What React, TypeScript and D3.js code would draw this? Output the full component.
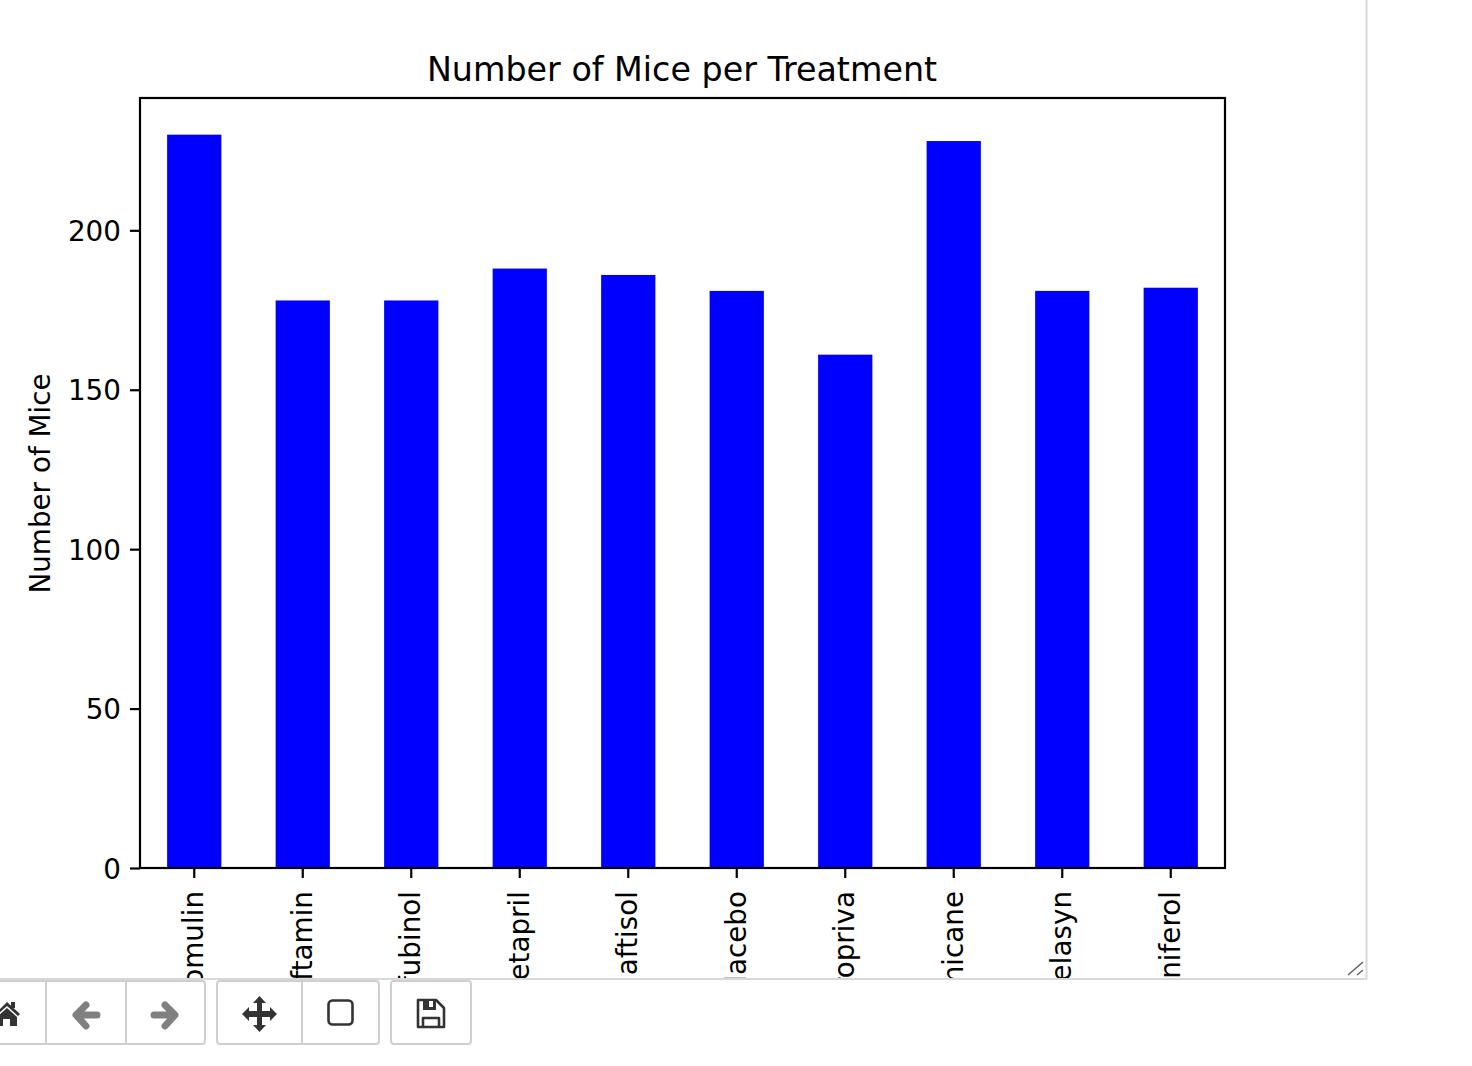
import React, { useEffect, useRef } from "react";
import * as d3 from "d3";

const categories = ["Capomulin", "Ceftamin", "Infubinol", "Ketapril", "Naftisol", "Placebo", "Propriva", "Ramicane", "Stelasyn", "Zoniferol"];
const miceCounts = [230, 178, 178, 188, 186, 181, 161, 228, 181, 182];
const yTicks = [0, 50, 100, 150, 200];
const chartTitle = "Number of Mice per Treatment";
const yLabel = "Number of Mice";

const FONT = "'DejaVu Sans', sans-serif";
const L = 140, R = 1225, T = 98, B = 868;
const CLIP_BOTTOM = 978;

export default function App() {
  const ref = useRef<SVGSVGElement>(null);

  const x = d3.scaleBand<string>().domain(categories).range([L, R]).paddingInner(0.5).paddingOuter(0.25);
  const y = d3.scaleLinear().domain([0, 241.5]).range([B, T]);

  useEffect(() => {
    const svg = d3.select(ref.current);
    const ax = svg.select<SVGGElement>(".x-axis");
    ax.selectAll("*").remove();
    ax.call(d3.axisBottom(x).tickSize(10).tickPadding(11) as any);
    ax.select(".domain").remove();
    ax.selectAll(".tick line").attr("stroke", "#000").attr("stroke-width", 2.2);
    ax.selectAll<SVGTextElement, string>(".tick text")
      .attr("transform", "rotate(-90)")
      .attr("text-anchor", "end")
      .attr("dy", "0.32em")
      .attr("x", -23)
      .attr("y", 0)
      .attr("fill", "#000")
      .style("font-family", FONT)
      .style("font-size", "27.8px");

    const ay = svg.select<SVGGElement>(".y-axis");
    ay.selectAll("*").remove();
    ay.call(d3.axisLeft(y).tickValues(yTicks).tickSize(10).tickPadding(9) as any);
    ay.select(".domain").remove();
    ay.selectAll(".tick line").attr("stroke", "#000").attr("stroke-width", 2.2);
    ay.selectAll(".tick text")
      .attr("fill", "#000")
      .attr("dy", "0.36em")
      .style("font-family", FONT)
      .style("font-size", "27.8px");
  }, []);

  const btnStroke = "#cfcfcf";
  return (
    <svg ref={ref} width={1472} height={1066} viewBox="0 0 1472 1066"
      style={{ position: "absolute", left: 0, top: 0, display: "block", background: "#fff" }}>
      <defs>
        <clipPath id="fig-clip"><rect x={0} y={0} width={1366} height={CLIP_BOTTOM} /></clipPath>
      </defs>
      <g clipPath="url(#fig-clip)">
        {categories.map((c, i) => (
          <rect key={c} x={x(c)} y={y(miceCounts[i])} width={x.bandwidth()} height={B - y(miceCounts[i])} fill="#0000ff" />
        ))}
        <rect x={L} y={T} width={R - L} height={B - T} fill="none" stroke="#000" strokeWidth={2.2} />
        <g className="x-axis" transform={`translate(0,${B})`} />
        <g className="y-axis" transform={`translate(${L},0)`} />
        <text x={682} y={81} textAnchor="middle" fontFamily={FONT} fontSize={33.35} fill="#000">{chartTitle}</text>
        <text transform="translate(50,483.5) rotate(-90)" textAnchor="middle" fontFamily={FONT} fontSize={27.8} fill="#000">{yLabel}</text>
      </g>

      {/* widget frame */}
      <line x1={1366.5} y1={0} x2={1366.5} y2={979} stroke="#d8d8d8" strokeWidth={2} />
      <line x1={0} y1={979} x2={1367} y2={979} stroke="#d8d8d8" strokeWidth={2} />
      <g stroke="#666" strokeWidth={1.6}>
        <line x1={1348} y1={975} x2={1363} y2={962} />
        <line x1={1357} y1={975} x2={1363} y2={970} />
      </g>

      {/* toolbar */}
      <g fill="#fff" stroke={btnStroke} strokeWidth={2}>
        <path d="M-6,981 H46 V1044 H-6 Z" />
        <rect x={46} y={981} width={80} height={63} />
        <path d="M126,981 H202 a3,3 0 0 1 3,3 V1041 a3,3 0 0 1 -3,3 H126 Z" />
        <path d="M302,981 H220 a3,3 0 0 0 -3,3 V1041 a3,3 0 0 0 3,3 H302 Z" />
        <path d="M302,981 H376 a3,3 0 0 1 3,3 V1041 a3,3 0 0 1 -3,3 H302 Z" />
        <rect x={391} y={981} width={80} height={63} rx={3} />
      </g>
      {/* home */}
      <g fill="#333">
        <path d="M-3,1012 L7,1002 L20,1014 L18,1016 L7,1006 L-3,1015 Z" />
        <path d="M-3,1017 L7,1008 L17,1017 V1026 H10 V1019 H3 V1026 H-3 Z" />
        <rect x={11} y={1002} width={4} height={6} />
      </g>
      {/* back / forward */}
      <g stroke="#808080" strokeWidth={7} strokeLinecap="round" strokeLinejoin="round" fill="none">
        <path d="M97,1015 H77 M86,1005 L76,1015 L86,1026" />
        <path d="M154,1015 H174 M165,1005 L175,1015 L165,1026" />
      </g>
      {/* move */}
      <path fill="#333" d="M259.5,996 L266,1003 H262 V1011 H270 V1007 L277,1014 L270,1021 V1017 H262 V1025 H266 L259.5,1032 L253,1025 H257 V1017 H249 V1021 L242,1014 L249,1007 V1011 H257 V1003 H253 Z" />
      {/* zoom rect */}
      <rect x={328.5} y={1000.5} width={24} height={24} rx={4} fill="none" stroke="#333" strokeWidth={2.6} />
      {/* save */}
      <g fill="none" stroke="#333" strokeWidth={2.6} strokeLinejoin="round">
        <path d="M418,1000 H436 L444,1008 V1027 H418 Z" />
        <path d="M423,1027 V1018 H439 V1027" />
      </g>
      <path d="M423,1000 H436 V1010 H423 Z" fill="#333" />
      <rect x={429} y={1001} width={4} height={6} fill="#fff" />
    </svg>
  );
}
